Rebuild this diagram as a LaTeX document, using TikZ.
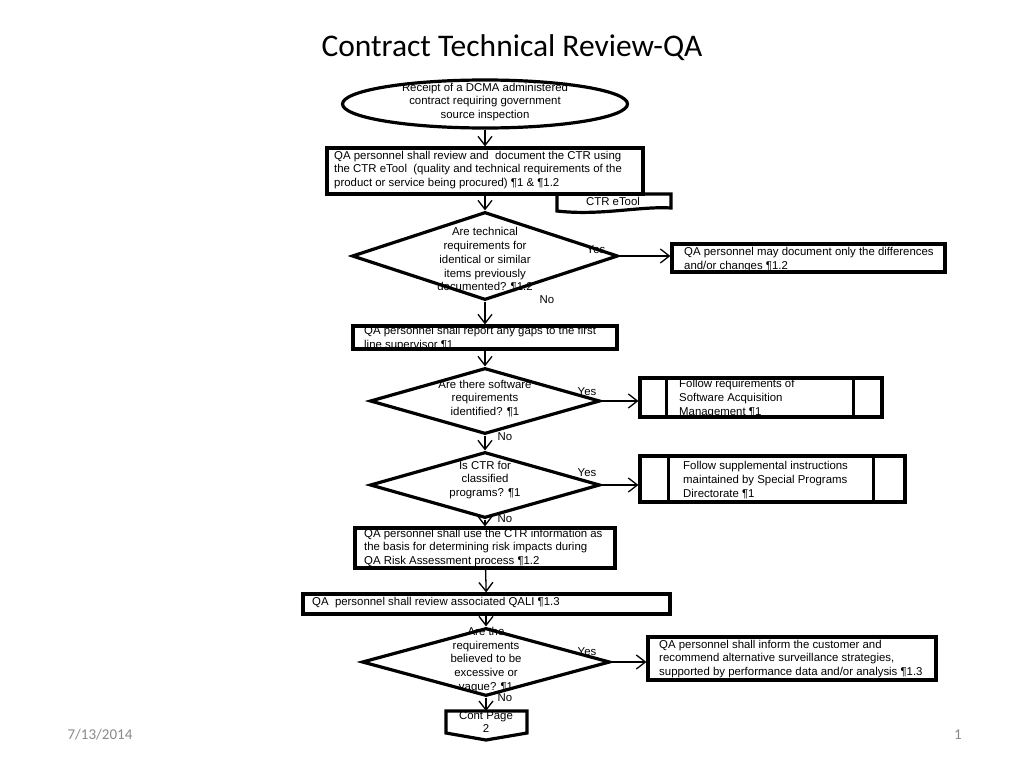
\documentclass[tikz,border=0pt]{standalone}
\usepackage{fontspec}
\setmainfont{Liberation Sans}
\newfontfamily\calibri{Carlito}
\usetikzlibrary{shapes.geometric,arrows.meta}
\definecolor{footgray}{RGB}{137,137,137}

\begin{document}
\begin{tikzpicture}[x=1pt, y=-1pt,
    box/.style={rectangle, draw=black, line width=3.2pt, inner sep=0pt},
    decision/.style={diamond, draw=black, line width=3.2pt, inner sep=0pt},
    txt/.style={font=\fontsize{11.4}{13.7}\selectfont, align=left, inner sep=0pt, anchor=west},
    ctxt/.style={font=\fontsize{11.4}{13.7}\selectfont, align=center, inner sep=0pt},
    answer/.style={font=\fontsize{11.4}{12}\selectfont, inner sep=0pt},
    edge/.style={line width=1.3pt, -{Straight Barb[length=9pt,width=14pt,line width=1.3pt]}}
]
    \useasboundingbox (0,0) rectangle (1024,768);
    \node[font=\calibri\fontsize{31.5}{36}\selectfont] (title) at (512,48) {Contract Technical Review-QA};
    \node[font=\calibri\fontsize{15}{18}\selectfont, text=footgray] (date) at (100,735) {7/13/2014};
    \node[font=\calibri\fontsize{15}{18}\selectfont, text=footgray] (page) at (958,735) {1};

    \node[ellipse, draw=black, line width=3.2pt, minimum width=285pt, minimum height=48pt] (start) at (485,104) {};
    \node[ctxt] (tstart) at (485,102) {Receipt of a DCMA administered\\contract requiring government\\source inspection};

    \node[box, minimum width=316pt, minimum height=46pt] (review) at (485,171) {};
    \node[txt] (treview) at (334,170) {QA personnel shall review and\ \ document the CTR using\\the CTR eTool\ \ (quality and technical requirements of the\\product or service being procured) ¶1 \& ¶1.2};

    \draw[line width=3.2pt] (557,194) -- (671,194) -- (671,208)
        .. controls (640,206) and (600,216) .. (557,211) -- cycle;
    \node[answer] (tetool) at (613,201) {CTR eTool};

    \node[decision, minimum width=266pt, minimum height=88pt] (similar) at (485,256) {};
    \node[ctxt] (tsimilar) at (485,260) {Are technical\\requirements for\\identical or similar\\items previously\\documented? ¶1.2};
    \node[box, minimum width=273pt, minimum height=28pt] (differ) at (808.5,258) {};
    \node[txt] (tdiffer) at (684,259.5) {QA personnel may document only the differences\\and/or changes ¶1.2};

    \node[box, minimum width=264pt, minimum height=23pt] (gaps) at (485,337.5) {};
    \node[txt] (tgaps) at (364,338.5) {QA personnel shall report any gaps to the first\\line supervisor ¶1};

    \node[decision, minimum width=230pt, minimum height=66pt] (software) at (485,401) {};
    \node[ctxt] (tsoftware) at (485,398.5) {Are there software\\requirements\\identified? ¶1};
    \node[box, minimum width=242pt, minimum height=39pt] (acq) at (761,397.5) {};
    \draw[line width=3.2pt] ([xshift=28pt]acq.north west) -- ([xshift=28pt]acq.south west);
    \draw[line width=3.2pt] ([xshift=-30pt]acq.north east) -- ([xshift=-30pt]acq.south east);
    \node[txt] (tacq) at (679,398.5) {Follow requirements of\\Software Acquisition\\Management ¶1};

    \node[decision, minimum width=230pt, minimum height=66pt] (classified) at (485,485) {};
    \node[ctxt] (tclassified) at (485,480) {Is CTR for\\classified\\programs? ¶1};
    \node[box, minimum width=265pt, minimum height=46pt] (spd) at (772.5,479) {};
    \draw[line width=3.2pt] ([xshift=30pt]spd.north west) -- ([xshift=30pt]spd.south west);
    \draw[line width=3.2pt] ([xshift=-33pt]spd.north east) -- ([xshift=-33pt]spd.south east);
    \node[txt] (tspd) at (683,480) {Follow supplemental instructions\\maintained by Special Programs\\Directorate ¶1};

    \node[box, minimum width=260pt, minimum height=40pt] (risk) at (485,548) {};
    \node[txt] (trisk) at (364,548) {QA personnel shall use the CTR information as\\the basis for determining risk impacts during\\QA Risk Assessment process ¶1.2};

    \node[box, minimum width=367pt, minimum height=20pt] (qali) at (486.5,604) {};
    \node[txt] (tqali) at (312,603) {QA\ \ personnel shall review associated QALI ¶1.3};

    \node[decision, minimum width=248pt, minimum height=68pt] (vague) at (486,662) {};
    \node[ctxt] (tvague) at (486,660) {Are the\\requirements\\believed to be\\excessive or\\vague? ¶1};
    \node[box, minimum width=288pt, minimum height=43pt] (inform) at (792,658.5) {};
    \node[txt] (tinform) at (659,659) {QA personnel shall inform the customer and\\recommend alternative surveillance strategies,\\supported by performance data and/or analysis ¶1.3};

    \coordinate (cont) at (486,711);
    \draw[line width=3.2pt] (446,711) -- (527,711) -- (527,733) -- (486,740) -- (446,733) -- cycle;
    \node[ctxt] (tcont) at (486,722) {Cont Page\\2};

    \node[answer] (yes1) at (596,250) {Yes};
    \node[answer] (no1) at (547,300) {No};
    \node[answer] (yes2) at (587,392) {Yes};
    \node[answer] (no2) at (505,437) {No};
    \node[answer] (yes3) at (587,473) {Yes};
    \node[answer] (no3) at (505,519) {No};
    \node[answer] (yes4) at (587,652) {Yes};
    \node[answer] (no4) at (505,698) {No};

    \draw[edge] (start) -- (review);
    \draw[edge] (review) -- (similar);
    \draw[edge] (similar.east) -- (similar.east -| differ.west);
    \draw[edge] (similar) -- (gaps);
    \draw[edge] (gaps) -- (software);
    \draw[edge] (software.east) -- (software.east -| acq.west);
    \draw[edge] (software) -- (classified);
    \draw[edge] (classified.east) -- (classified.east -| spd.west);
    \draw[edge] (classified) -- (risk);
    \draw[edge] (risk) -- (qali);
    \draw[edge] (qali.south -| vague) -- (vague);
    \draw[edge] (vague.east) -- (vague.east -| inform.west);
    \draw[edge] (vague) -- (cont);
\end{tikzpicture}
\end{document}
